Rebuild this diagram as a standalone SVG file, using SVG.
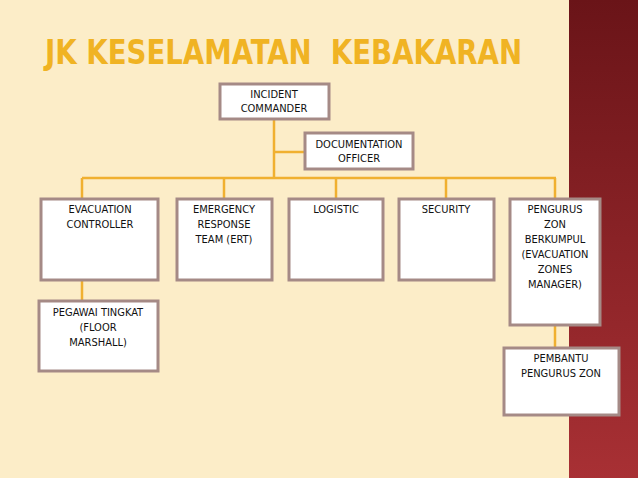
<svg xmlns="http://www.w3.org/2000/svg" width="638" height="478" viewBox="0 0 638 478">
<defs>
<linearGradient id="red" x1="0" y1="0" x2="0" y2="1"><stop offset="0" stop-color="#6a1418"/><stop offset="1" stop-color="#a83034"/></linearGradient>
<style>
.b{fill:#fff;stroke:#a58a86;stroke-width:3}
.t{font-family:"DejaVu Sans Condensed","DejaVu Sans",sans-serif;font-size:11px;fill:#111;text-anchor:middle}
.c{stroke:#f0b030;stroke-width:2.5;fill:none}
</style>
</defs>
<rect width="638" height="478" fill="#fcedc8"/>
<rect x="569" width="69" height="478" fill="url(#red)"/>
<text x="45" y="64" xml:space="preserve" textLength="477" lengthAdjust="spacingAndGlyphs" font-family="'DejaVu Sans Condensed','DejaVu Sans',sans-serif" font-weight="bold" font-size="34" fill="#f0b323">JK KESELAMATAN  KEBAKARAN</text>
<g id="connectors">
<path class="c" d="M274 119V178M274 152H304M82 178H556M82 178V198M224 178V198M336 178V198M446 178V198M555 178V198M82 280V301M555 325V348"/>
</g>
<g id="ic"><rect class="b" x="220" y="84" width="109" height="35"/><text class="t" x="274" y="98">INCIDENT</text><text class="t" x="274" y="112">COMMANDER</text></g>
<g id="doc"><rect class="b" x="305" y="133" width="108" height="36"/><text class="t" x="359" y="148">DOCUMENTATION</text><text class="t" x="359" y="162">OFFICER</text></g>
<g id="evac"><rect class="b" x="41" y="199" width="117" height="81"/><text class="t" x="100" y="213">EVACUATION</text><text class="t" x="100" y="228">CONTROLLER</text></g>
<g id="ert"><rect class="b" x="177" y="199" width="95" height="81"/><text class="t" x="224" y="213">EMERGENCY</text><text class="t" x="224" y="228">RESPONSE</text><text class="t" x="224" y="243">TEAM (ERT)</text></g>
<g id="logistic"><rect class="b" x="289" y="199" width="94" height="81"/><text class="t" x="336" y="213">LOGISTIC</text></g>
<g id="security"><rect class="b" x="399" y="199" width="95" height="81"/><text class="t" x="446" y="213">SECURITY</text></g>
<g id="pengurus"><rect class="b" x="510" y="199" width="90" height="126"/><text class="t" x="555" y="213">PENGURUS</text><text class="t" x="555" y="228">ZON</text><text class="t" x="555" y="243">BERKUMPUL</text><text class="t" x="555" y="258">(EVACUATION</text><text class="t" x="555" y="273">ZONES</text><text class="t" x="555" y="288">MANAGER)</text></g>
<g id="pegawai"><rect class="b" x="39" y="301" width="119" height="70"/><text class="t" x="98" y="316">PEGAWAI TINGKAT</text><text class="t" x="98" y="331">(FLOOR</text><text class="t" x="98" y="346">MARSHALL)</text></g>
<g id="pembantu"><rect class="b" x="504" y="348" width="115" height="67"/><text class="t" x="561" y="362">PEMBANTU</text><text class="t" x="561" y="377">PENGURUS ZON</text></g>
</svg>
